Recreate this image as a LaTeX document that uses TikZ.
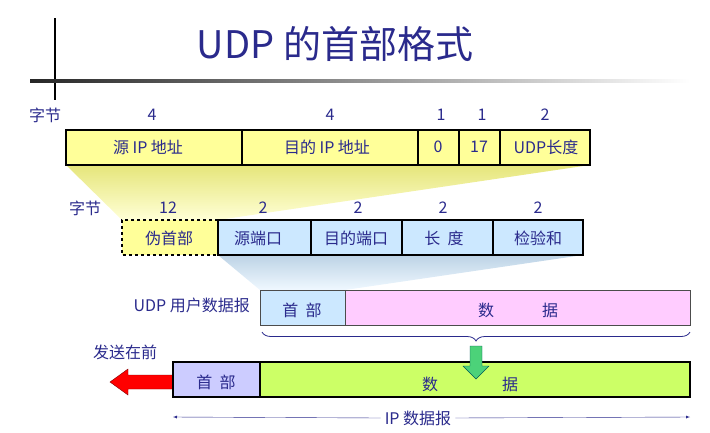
\documentclass[tikz,border=0pt]{standalone}
\usepackage{fontspec}
\setmainfont{Noto Sans CJK SC}
\usetikzlibrary{decorations.pathreplacing}
\definecolor{ink}{HTML}{2A2A8C}
\definecolor{yel}{HTML}{FFFF99}
\definecolor{blu}{HTML}{CCE8FF}
\definecolor{pnk}{HTML}{FFCCFF}
\definecolor{lav}{HTML}{CCCCFF}
\definecolor{grn}{HTML}{CCFF66}
\tikzset{
  lbl/.style={text=ink, font=\fontsize{16}{18}\selectfont, inner sep=0pt},
  cell/.style={draw=black, line width=1.3pt},
  thin/.style={draw=ink, line width=0.6pt}
}
\begin{document}
\begin{tikzpicture}[x=1pt, y=-1pt]
				\useasboundingbox (0,0) rectangle (710,432);
				% Title
				\draw[line width=2pt] (55,18) -- (55,100);
				\shade[left color=black!85, right color=white] (30,79.5) rectangle (690,82.5);
				\node[text=ink, font=\fontsize{38}{42}\selectfont, inner sep=0pt] (title) at (335,44) {UDP 的首部格式};

				% Funnel shades
				\shade[top color=yel!80!olive, bottom color=yel!40] (66,165) -- (590,165) -- (218,220) -- (122,220) -- cycle;
				\shade[top color=blu!80!gray, bottom color=blu!30] (218,255) -- (583,255) -- (345,290) -- (260,290) -- cycle;

				% Pseudo header
				\node[lbl] (b1) at (45,115) {字节};
				\node[lbl] at (152,115) {4};
				\node[lbl] at (330,115) {4};
				\node[lbl] at (441,115) {1};
				\node[lbl] at (482,115) {1};
				\node[lbl] at (545,115) {2};
				\draw[cell, fill=yel] (66,130) rectangle (590,165);
				\draw[cell] (242,130) -- (242,165);
				\draw[cell] (418,130) -- (418,165);
				\draw[cell] (459,130) -- (459,165);
				\draw[cell] (500,130) -- (500,165);
				\node[lbl] (srcip) at (148,147) {源 IP 地址};
				\node[lbl] (dstip) at (327,147) {目的 IP 地址};
				\node[lbl] at (438,147) {0};
				\node[lbl] at (479,147) {17};
				\node[lbl] at (546,147) {UDP长度};

				% UDP header
				\node[lbl] (b2) at (85,208) {字节};
				\node[lbl] at (168,208) {12};
				\node[lbl] at (263,208) {2};
				\node[lbl] at (358,208) {2};
				\node[lbl] at (443,208) {2};
				\node[lbl] at (538,208) {2};
				\draw[fill=yel, draw=none] (122,220) rectangle (218,255);
				\draw[line width=1.3pt, dashed] (218,220) -- (122,220) -- (122,255) -- (218,255);
				\draw[cell, fill=blu] (218,220) rectangle (583,255);
				\draw[cell] (311,220) -- (311,255);
				\draw[cell] (402,220) -- (402,255);
				\draw[cell] (493,220) -- (493,255);
				\node[lbl] at (169,238) {伪首部};
				\node[lbl] at (258,238) {源端口};
				\node[lbl] at (356,238) {目的端口};
				\node[lbl] at (444,238) {长\ \ 度};
				\node[lbl] at (538,238) {检验和};

				% UDP datagram
				\node[lbl, anchor=east] (udpd) at (250,305) {UDP 用户数据报};
				\draw[thin, draw=black!70, fill=blu] (260,290) rectangle (345,325);
				\draw[thin, draw=black!70, fill=pnk] (345,290) rectangle (690,325);
				\node[lbl] at (302,310) {首\ \ 部};
				\node[lbl] at (518,310) {数\qquad\quad 据};
				\draw[ink, line width=0.8pt, decorate, decoration={brace, amplitude=9pt, mirror}] (262,332) -- (690,332);

				% IP datagram
				\node[lbl] (first) at (125,352) {发送在前};
				\draw[fill=red, draw=red!50!black] (173,375) -- (128,375) -- (128,369) -- (110,382) -- (128,395) -- (128,389) -- (173,389) -- cycle;
				\draw[cell, fill=lav] (173,362) rectangle (260,397);
				\draw[cell, fill=grn] (260,362) rectangle (690,397);
				\node[lbl] at (216,382) {首\ \ 部};
				\node[lbl] at (470,384) {数\qquad\qquad 据};
				\draw[fill=teal!50!green!70, draw=teal!70!black] (470,346) -- (482,346) -- (482,366) -- (489,366) -- (476,379) -- (463,366) -- (470,366) -- cycle;
				\node[lbl, fill=white, inner xsep=4pt] (ipd) at (418,418) {IP 数据报};
				\draw[ink, -latex] (ipd.west) -- (173,417);
				\draw[ink, -latex] (ipd.east) -- (690,417);
			\end{tikzpicture}
\end{document}
